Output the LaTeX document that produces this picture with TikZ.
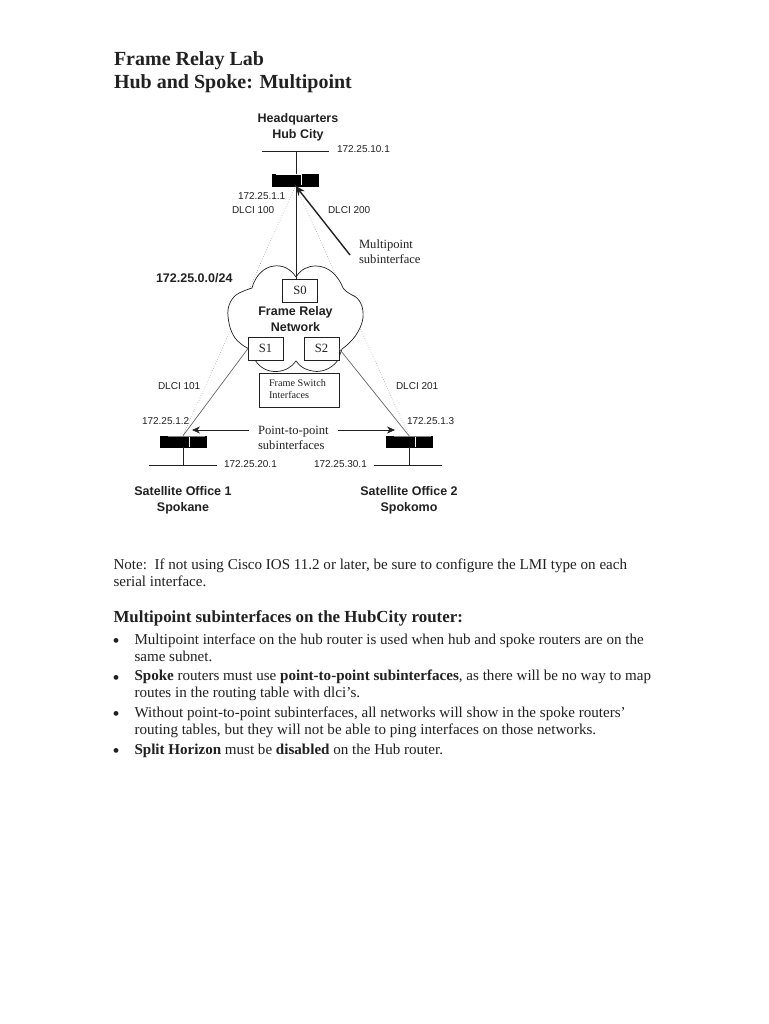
\documentclass[tikz,border=0pt]{standalone}
\usepackage{fontspec}
\setmainfont{Liberation Serif}
\setsansfont{Liberation Sans}
\usetikzlibrary{arrows.meta}
\definecolor{ink}{gray}{0.13}
\tikzset{
  x=1pt,y=-1pt,
  every node/.style={inner sep=0pt,outer sep=0pt,text=ink},
  title/.style={anchor=base west,font=\fontsize{20}{20}\selectfont\bfseries},
  body/.style={anchor=base west,font=\fontsize{15.07}{15}\selectfont},
  bulletmark/.style={anchor=center,font=\fontsize{20}{20}\selectfont},
  subhead/.style={anchor=base west,font=\fontsize{16.9}{16}\selectfont\bfseries},
  lab/.style={anchor=base west,font=\sffamily\fontsize{10}{10}\selectfont},
  blab/.style={anchor=base,font=\sffamily\bfseries\fontsize{12.5}{12.5}\selectfont},
  serlab/.style={anchor=base west,font=\fontsize{12.6}{12.6}\selectfont},
  iface/.style={draw=ink,line width=0.8pt,fill=white,minimum width=35pt,minimum height=23pt,font=\fontsize{12.6}{12.6}\selectfont},
  router/.style={fill=black,draw=black,line width=0.3pt,minimum width=46pt,minimum height=11.5pt},
  wire/.style={draw=ink,line width=0.8pt},
  link/.style={draw=black!60,line width=0.7pt},
  virt/.style={draw=black!50,line width=0.5pt,dotted},
  cloudline/.style={draw=ink,line width=0.7pt},
  bigarrow/.style={draw=ink,line width=1.4pt,-{Stealth[length=10pt,width=8pt]}},
  smallarrow/.style={draw=ink,line width=0.7pt,-{Stealth[length=8pt,width=7pt]}}
}
\begin{document}
\begin{tikzpicture}
\useasboundingbox[fill=white] (0,0) rectangle (768,1024);

% headings
\node[title] (t1) at (114,66) {Frame Relay Lab};
\node[title] (t2) at (114,89) {Hub and Spoke: Multipoint};

% routers and interface boxes positions
\node[router] (hubr) at (295.5,180) {};
\node[router] (lr) at (183,441.5) {};
\node[router] (rr) at (409,441.5) {};

% virtual circuits
\draw[virt] (hubr.south) -- (lr.north);
\draw[virt] (hubr.south) -- (rr.north);

% cloud
\draw[cloudline,fill=white]
 (296,277) .. controls (290,268) and (282,265) .. (274,266)
 .. controls (264,267) and (255,276) .. (252,288)
 .. controls (246,290) and (240,292) .. (236,295)
 .. controls (230,300) and (227,308) .. (228,316)
 .. controls (229,328) and (233,338) .. (240,343)
 .. controls (243,346) and (246,347) .. (249,349)
 -- (255,360)
 .. controls (260,368) and (268,372) .. (277,371.5)
 .. controls (285,371) and (292,367) .. (296,361)
 .. controls (300,367) and (307,371) .. (317,371.5)
 .. controls (326,371) and (333,367) .. (338,360)
 -- (342,349)
 .. controls (352,342) and (361,331) .. (363,318)
 .. controls (364,307) and (360,298) .. (352,295)
 .. controls (349,293) and (346,292) .. (343,288)
 .. controls (338,275) and (328,266) .. (316,266)
 .. controls (308,266) and (301,269) .. (296,277) -- cycle;

% hub
\coordinate (hl) at (262,151.5);
\coordinate (hr) at (329,151.5);
\coordinate (hm) at (296,151.5);
\draw[wire] (hl) -- (hr);
\node[iface] (s0) at (300,290.5) {S0};
\draw[wire] (hm) -- (hm |- hubr.north);
\draw[wire] (hubr.south -| hm) -- (hm |- s0.north);
\draw[white,line width=0.7pt] (301,174.5) -- (301,185.5);
\draw[white,line width=0.4pt] (276,174.7) -- (301,174.7);

% spoke routers
\node[iface] (s1) at (265.5,348.5) {S1};
\node[iface] (s2) at (321.5,348.5) {S2};
\draw[link] (s1.west) -- (lr.north);
\draw[link] (s2.east) -- (rr.north);
\draw[white,line width=0.7pt] (189.5,436) -- (189.5,447);
\draw[white,line width=0.7pt] (415.5,436) -- (415.5,447);
\draw[black!50,line width=0.6pt] (168,436.3) -- (205,436.3);
\draw[black!50,line width=0.6pt] (394,436.3) -- (431,436.3);

\coordinate (ll) at (149,465);
\coordinate (lrt) at (217,465);
\coordinate (rl) at (374,465);
\coordinate (rrt) at (442,465);
\draw[wire] (ll) -- (lrt);
\draw[wire] (rl) -- (rrt);
\draw[wire] (lr.south) -- (lr.south |- ll);
\draw[wire] (rr.south) -- (rr.south |- rl);

\node[draw=ink,line width=0.8pt,fill=white,minimum width=80pt,minimum height=34pt] (fsw) at (299,390) {};
\node[anchor=base west,font=\fontsize{10.2}{10}\selectfont] (fs1) at (269,386) {Frame Switch};
\node[anchor=base west,font=\fontsize{10.2}{10}\selectfont] (fs2) at (269,398) {Interfaces};

% labels
\node[blab] (hq) at (298,123) {Headquarters};
\node[blab] (hc) at (298,138.5) {Hub City};
\node[lab] (a1) at (337,152.5) {172.25.10.1};
\node[lab] (a2) at (238,200) {172.25.1.1};
\node[lab] (d1) at (232,214) {DLCI 100};
\node[lab] (d2) at (328,214) {DLCI 200};
\node[serlab] (mp1) at (359,248) {Multipoint};
\node[serlab] (mp2) at (359,263.5) {subinterface};
\coordinate (mpa) at (350,255);
\draw[bigarrow] (mpa) -- (hubr.south);
\node[blab,anchor=base west] (net) at (156,282) {172.25.0.0/24};
\node[blab] (fr1) at (295.5,315.5) {Frame Relay};
\node[blab] (fr2) at (295.5,331) {Network};
\node[lab] (d3) at (158,389) {DLCI 101};
\node[lab] (d4) at (396,389) {DLCI 201};
\node[lab] (a3) at (142,424.5) {172.25.1.2};
\node[lab] (a4) at (407,424.5) {172.25.1.3};
\node[serlab] (pp1) at (258,434) {Point-to-point};
\node[serlab] (pp2) at (258,449.5) {subinterfaces};
\draw[smallarrow] (249,430) coordinate (pa) -- (192,430);
\draw[smallarrow] (338,430) coordinate (pb) -- (395,430);
\node[lab] (a5) at (224,467.5) {172.25.20.1};
\node[lab] (a6) at (314,467.5) {172.25.30.1};
\node[blab] (so1) at (183,495.5) {Satellite Office 1};
\node[blab] (so1b) at (183,511.5) {Spokane};
\node[blab] (so2) at (409,495.5) {Satellite Office 2};
\node[blab] (so2b) at (409,511.5) {Spokomo};

% body
\node[body] (n1) at (113.5,569) {Note:\ \ If not using Cisco IOS 11.2 or later, be sure to configure the LMI type on each};
\node[body] (n2) at (113.5,586) {serial interface.};
\node[subhead] (h) at (113.5,622.5) {Multipoint subinterfaces on the HubCity router:};
\node[bulletmark] (b1) at (116,642.5) {\textbullet};
\node[body] (l1) at (134.5,644) {Multipoint interface on the hub router is used when hub and spoke routers are on the};
\node[body] (l2) at (134.5,661) {same subnet.};
\node[bulletmark] (b2) at (116,679.5) {\textbullet};
\node[body] (l3) at (134.5,680.5) {\textbf{Spoke} routers must use \textbf{point-to-point subinterfaces}, as there will be no way to map};
\node[body] (l4) at (134.5,697.5) {routes in the routing table with dlci’s.};
\node[bulletmark] (b3) at (116,715.5) {\textbullet};
\node[body] (l5) at (134.5,717.5) {Without point-to-point subinterfaces, all networks will show in the spoke routers’};
\node[body] (l6) at (134.5,734.5) {routing tables, but they will not be able to ping interfaces on those networks.};
\node[bulletmark] (b4) at (116,752.5) {\textbullet};
\node[body] (l7) at (134.5,754) {\textbf{Split Horizon} must be \textbf{disabled} on the Hub router.};
\end{tikzpicture}
\end{document}
